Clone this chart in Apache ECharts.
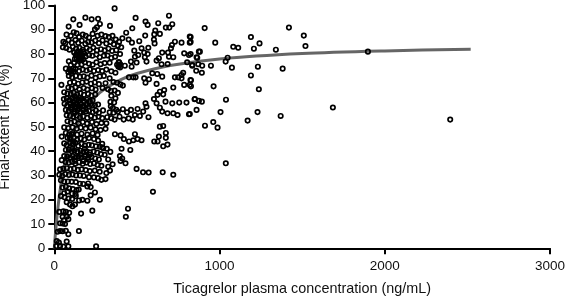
<!DOCTYPE html>
<html><head><meta charset="utf-8">
<script src="https://cdn.jsdelivr.net/npm/echarts@6/dist/echarts.min.js"></script>
<style>html,body{margin:0;padding:0;background:#fff}#c{width:567px;height:299px}</style>
</head><body><div id="c"></div>
<script>
const xTicks = [0, 1000, 2000, 3000];
const yTicks = [0, 10, 20, 30, 40, 50, 60, 70, 80, 90, 100];
const xTitle = 'Ticagrelor plasma concentration (ng/mL)';
const yTitle = 'Final-extent IPA (%)';
const fitCurve = [[0,0],[5,4.5],[10,8.5],[25,18.5],[50,30.4],[100,44.7],[150,53],[200,58.6],[250,62.5],[300,65.4],[400,69.4],[500,72],[700,75.3],[1000,78],[1500,80.2],[2000,81.3],[2520,82]];
const sparsePoints = [[2396,53],[1898,81],[1686,58],[1520,83.3],[1510,87.6],[1420,90.9],[1382,74],[1370,54.5],[1341,81.8],[1242,84.4],[1238,65.5],[1232,74.8],[1230,56.1],[1208,82.2],[1190,87],[1190,71.2],[1170,52.6],[1113,82.6],[1083,83],[1075,74.4],[1049,78.5],[1039,61.2],[1038,35],[1037,76.9],[1006,56.1],[988,49.7],[974,84.7],[964,66.7],[962,52],[948,75.2],[912,50.5],[910,90.7],[895,75.2],[893,72.3],[893,60.4],[881,81],[875,81],[875,60.7],[871,75.8],[865,78.5],[861,78.7],[861,57],[859,73.1],[851,61.5],[849,61.4],[835,75.2],[835,75.5],[827,69.2],[827,66.7],[825,87],[825,85],[825,80],[824,69.3],[820,87.2],[820,84.7],[820,67.3],[820,55.3],[815,79.6],[815,55.2],[804,76.6],[800,60],[786,80.3],[786,67.3],[780,72.3],[770,84.7],[770,71.4],[770,70],[756,60],[750,70.4],[746,54.9],[730,85.1],[730,70.4],[720,78.7],[720,66.2],[720,55.6],[720,30.3],[714,92.3],[714,59.7],[712,83.7],[706,82.4],[696,90.9],[694,95.8],[694,78.9],[688,80.6],[686,75.9],[685,55.6],[675,90.9],[673,60.4],[665,65.2],[659,63.4],[659,50.4],[656,31.3],[653,80.6],[653,70.7],[653,56.3],[649,75.8],[639,88.3],[639,64.5],[639,57.9],[639,50.1],[633,78.3],[629,92.7],[625,63.2],[623,71.8],[619,77.3],[619,67.7],[619,59.7],[611,89.7],[607,84.4],[605,88.1],[603,86],[603,61.5],[597,23.3],[593,72.1],[573,69.6],[571,31.2],[570,54],[569,82.6],[565,92],[565,80],[558,76.9],[558,58.3],[552,93.4],[552,68.2],[552,59.7],[550,87.6],[548,78.7],[544,80.6],[544,70],[538,56.3],[537,31.3],[528,82.4],[518,54.5],[514,85.3],[508,79.6],[504,57.4],[498,76.5],[498,32.7],[492,94.9],[492,70.4],[488,78.9],[488,54.9],[484,81.4],[478,70.4],[472,90.6],[470,84.7],[468,74.8],[464,76.9],[464,57],[452,70.4],[450,86],[446,16.3],[435,88.8],[433,13],[427,75.2]];
const midPoints = [[367,47],[401,46.5],[421,45],[452,44],[478,44.5],[488,47],[504,45],[528,44.5],[605,44],[633,46],[625,44],[659,42],[675,47.5],[675,45.5],[685,42.7],[407,41],[460,40.5],[397,38],[411,37],[401,36],[431,35],[339,39.7],[290,43],[290,41.6],[326,36.6],[353,34.6],[326,33.6],[337,32]];
const blobPoints = [[145,81],[155,80],[165,79],[150,78.5],[135,80],[175,81],[160,77.5],[393,76.5],[398,74.5],[95,73.4],[105,72],[85,72.5],[115,74],[110,62],[125,62.5],[140,59.5],[130,58],[115,60],[155,62],[170,58.5],[100,58],[150,57.5],[120,55.5],[190,38.5],[205,36.5],[175,36],[160,38.5],[215,38.5],[185,41],[125,36],[110,41],[95,45.5],[105,47],[115,43]];
const densePoints = [[365,98.8],[115,94.3],[188,95],[226,94.3],[265,94.5],[87,91.3],[153,92],[276,92.4],[337,91.6],[246,90.2],[258,91],[55,85],[74,88],[100,87.5],[118,89],[135,88.5],[150,87],[172,88],[190,87.5],[210,86.8],[232,88.3],[262,87.5],[285,88],[310,87.4],[330,87],[352,87.5],[372,86],[392,85],[412,86.5],[66,84.5],[86,85.7],[106,84.7],[128,85.8],[145,84.6],[166,85.5],[188,84.2],[205,85],[226,84.8],[248,85.5],[270,84.5],[292,85.6],[315,84.3],[340,85],[360,84],[385,83.5],[405,82.8],[52,82.8],[72,82.5],[92,81.8],[112,83],[132,82.2],[152,82.6],[172,81.8],[196,82.5],[215,81.8],[236,82.6],[258,81.5],[282,82],[305,81.5],[328,82.2],[350,81.3],[375,81.6],[398,80],[120,80.6],[130,79.5],[140,80.8],[150,79.2],[160,80.6],[170,79.4],[180,80.3],[190,79],[125,78],[137,78.2],[148,77.8],[162,78.3],[175,77.8],[210,79.6],[230,79.3],[255,79.8],[275,78.7],[300,79.3],[322,79.4],[345,78.4],[368,78.9],[390,76.7],[88,77],[100,75.5],[120,76.4],[140,75.5],[165,75.7],[185,76.6],[210,76],[232,75.6],[255,76.6],[280,75.8],[305,76.3],[335,76.4],[380,75.6],[393,75.5],[400,75.7],[388,74.8],[70,74],[92,73.5],[105,73],[118,72.8],[128,73.8],[150,73],[172,73.6],[195,73.2],[215,73.7],[240,73],[265,73.4],[290,73],[315,73.6],[345,72.9],[370,72.3],[43,67.3],[88,71],[108,70.4],[130,71],[155,70.6],[178,70.8],[200,70.3],[225,71.1],[250,70.2],[275,70.8],[300,71],[335,70],[358,68.5],[380,68.2],[400,67.5],[415,67],[95,68.2],[120,68.5],[145,67.8],[170,68.3],[195,68.6],[222,67.8],[245,68.3],[270,67.6],[310,68],[85,66.2],[105,65.8],[128,66.3],[152,65.5],[178,66],[200,65.4],[228,65.9],[250,65.4],[292,66],[325,65.5],[342,64.8],[365,65],[385,64],[60,64.3],[80,63.7],[100,63.5],[118,64],[138,63.4],[158,63.8],[180,63.2],[205,63.6],[225,62.9],[248,63.3],[345,62.8],[370,61.8],[58,61.5],[75,61.8],[92,61],[108,61.6],[122,60.8],[136,61.4],[150,60.9],[165,61.5],[180,60.7],[197,61.2],[215,60.6],[232,61],[340,60.3],[362,60],[62,59.5],[78,58.8],[95,59.6],[112,58.7],[128,59.3],[145,58.6],[160,59.2],[178,58.5],[193,59],[210,58.4],[228,58.7],[246,58.9],[265,59.2],[342,58.5],[355,57.8],[375,57],[415,57.3],[70,57],[88,56.6],[105,57.2],[122,56.4],[140,56.9],[158,56.2],[175,56.8],[192,56.3],[210,56.6],[232,56],[252,56.7],[270,55.8],[295,56.8],[335,56],[358,55.8],[385,56.2],[440,56],[75,54.8],[95,54.5],[115,54.2],[135,54.6],[155,53.9],[175,54.3],[200,53.7],[222,54.5],[245,53.8],[268,54.2],[290,53.6],[320,54],[345,53.6],[365,53],[395,54.2],[420,53],[450,53.5],[475,53],[80,52.3],[100,51.8],[122,52.2],[146,51.5],[172,52],[198,51.4],[228,52],[255,51.2],[285,51.6],[315,51.5],[60,49.8],[85,49.5],[110,49.8],[135,49.2],[160,49.7],[190,49.3],[220,49.7],[250,49],[280,48.7],[310,49.2],[70,47.5],[90,47],[112,47.5],[138,46.8],[165,47.2],[200,46.8],[232,47.3],[262,46.7],[45,46],[80,45.5],[100,45],[118,45.5],[138,44.7],[160,45.2],[182,44.8],[210,45.4],[240,45],[265,44.4],[60,43.2],[75,42.5],[95,43.4],[112,42.7],[128,43.4],[145,42.2],[165,43],[185,42.3],[208,42.6],[228,42.4],[252,42],[275,41.8],[296,41.2],[318,41],[70,40.5],[88,40.6],[105,40],[122,40.3],[140,39.8],[158,40.2],[175,39.7],[195,40],[215,39.5],[238,39.8],[260,39.4],[282,38.8],[305,38.5],[60,38],[78,37.8],[96,37.4],[112,38],[130,37.5],[146,37.8],[165,37.4],[185,37.9],[205,37.4],[225,37.6],[248,37],[270,36.6],[45,36.3],[68,35.5],[88,35.2],[108,35.6],[128,34.9],[150,35.4],[172,34.8],[195,35.3],[218,34.7],[240,35],[262,34.3],[285,34],[35,32.5],[55,32.8],[76,33],[98,32.6],[120,32.8],[142,32.3],[165,32.5],[190,32.2],[215,31.8],[245,32],[275,31.5],[315,31],[30,30.3],[48,29.8],[68,30.6],[88,30.2],[110,30.4],[132,30],[155,30],[178,29.8],[210,29.3],[240,29.2],[265,28.9],[310,28.5],[40,28],[60,27.5],[82,27.5],[105,27.4],[130,27.3],[155,26.6],[175,26.5],[205,26.7],[285,28.2],[200,25.5],[220,25.2],[50,25],[70,25.3],[90,24.7],[112,24.4],[135,24],[148,24.2],[60,22.7],[80,23.3],[108,22.5],[128,22.4],[40,21.5],[62,21],[86,20.5],[108,20.3],[130,21.5],[150,19.7],[170,20],[75,19],[95,18],[110,17.3],[125,18],[30,15],[55,15.2],[70,15],[90,14.6],[50,13],[75,13],[85,12],[58,11.5],[35,10.3],[50,10.2],[65,10],[20,6.8],[35,7.1],[50,7],[70,7.2],[85,5.8],[15,3],[28,2.4],[75,2.8],[12,0.9],[35,1],[55,0.7],[85,0.8],[253,0.8],[149,7.1],[230,15.5],[162,14.3],[276,20],[200,19.6],[220,21.8],[246,23]];
const scatterPoints = sparsePoints.concat(midPoints, blobPoints, densePoints);

const chart = echarts.init(document.getElementById('c'), null, {renderer:'canvas'});
const font = '"Liberation Sans", Arial, sans-serif';
chart.setOption({
  animation:false,
  backgroundColor:'#fff',
  grid:{left:54.3,top:5.5,width:495.7,height:242.8,containLabel:false,outerBoundsMode:'none'},
  xAxis:{type:'value',min:0,max:3000,interval:1000,
    name:xTitle,nameLocation:'middle',nameGap:34,
    nameTextStyle:{fontFamily:font,fontSize:14.4,color:'#111'},
    axisLine:{show:true,onZero:false,lineStyle:{color:'#000',width:2}},
    axisTick:{show:true,length:6,lineStyle:{color:'#000',width:2}},
    axisLabel:{fontFamily:font,fontSize:13.5,color:'#111',margin:11,hideOverlap:false,formatter:v=>String(v)},
    splitLine:{show:false}},
  yAxis:{type:'value',min:0,max:100,interval:10,
    name:yTitle,nameLocation:'middle',nameGap:39,
    nameTextStyle:{fontFamily:font,fontSize:14.2,color:'#111'},
    axisLine:{show:true,onZero:false,lineStyle:{color:'#000',width:2}},
    axisTick:{show:true,length:6,lineStyle:{color:'#000',width:2}},
    axisLabel:{fontFamily:font,fontSize:13.5,color:'#111',margin:9,formatter:v=>String(v)},
    splitLine:{show:false}},
  series:[
    {type:'line',data:fitCurve,smooth:0.3,showSymbol:false,z:1,clip:false,
      lineStyle:{color:'#666',width:3}},
    {type:'scatter',data:scatterPoints,symbol:'circle',symbolSize:4.4,z:2,clip:false,
      itemStyle:{color:'rgba(255,255,255,0)',borderColor:'#000',borderWidth:1.7,opacity:1}}
  ]
});
</script></body></html>
